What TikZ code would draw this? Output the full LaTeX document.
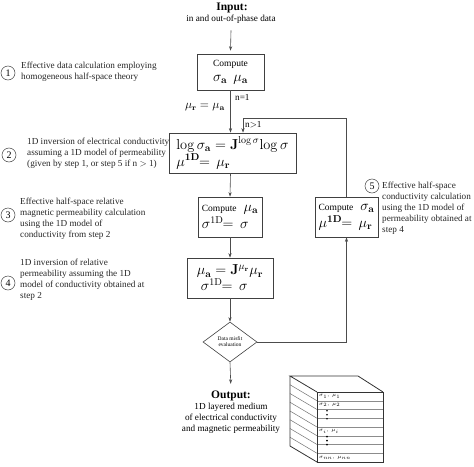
\documentclass[tikz,border=0pt]{standalone}
\usepackage[no-math]{fontspec}
\setmainfont{Liberation Serif}
\usetikzlibrary{shapes.geometric,arrows.meta}
\newcommand{\cmp}{{\fontsize{9.5}{9.5}\selectfont Compute}}
\begin{document}
\begin{tikzpicture}[x=1pt,y=-1pt,
  box/.style={draw=black!75, line width=0.7pt, inner sep=0pt, align=left, font=\fontsize{14}{17}\selectfont},
  arr/.style={draw=black!70, line width=0.6pt, -{Stealth[length=4.5pt,width=3.2pt]}},
  txt/.style={font=\fontsize{9.2}{11}\selectfont, align=left, anchor=west, inner sep=0pt, text=black!85},
  num/.style={draw=black!75, circle, minimum size=14pt, inner sep=0pt, font=\fontsize{10}{10}\selectfont, line width=0.5pt},
  lbl/.style={inner sep=0pt, font=\fontsize{9.2}{10}\selectfont},
  cubelbl/.style={inner sep=0pt, anchor=west, font=\fontsize{5.5}{6}\selectfont},
]
\useasboundingbox (0,0) rectangle (474,466);

% input
\node[inner sep=0pt, font=\fontsize{11.5}{12}\selectfont\bfseries] (inp) at (232,8) {Input:};
\node[lbl] (inp2) at (231,19) {in and out-of-phase data};

% boxes
\node[box, align=center, minimum width=67, minimum height=36, font=\fontsize{14}{15}\selectfont] (b1) at (230.5,72)
  {\cmp\\$\sigma_{\mathbf a}\hspace{6pt}\mu_{\mathbf a}$};
\node[box, minimum width=127, minimum height=40, font=\fontsize{14.5}{17}\selectfont] (b2) at (232.5,153)
  {$\log\sigma_{\mathbf a}=\mathbf J^{\log\sigma}\!\log\sigma$\\
   $\mu^{\mathbf{1D}}\!\!=\,\mu_{\mathbf r}$};
\node[box, minimum width=64, minimum height=40] (b3) at (230,217)
  {\cmp\ \ $\mu_{\mathbf a}$\\
   $\sigma^{\mathrm{1D}}\!\!=\,\sigma$};
\node[box, minimum width=86, minimum height=40, font=\fontsize{14}{16}\selectfont] (b4) at (230,278)
  {$\mu_{\mathbf a}=\mathbf J^{\mu_{\mathbf r}}\mu_{\mathbf r}$\\
   $\;\sigma^{\mathrm{1D}}\!\!=\,\sigma$};
\node[box, minimum width=63, minimum height=40] (b5) at (346.5,217)
  {\cmp\ \ $\sigma_{\mathbf a}$\\
   $\mu^{\mathbf{1D}}\!\!=\,\mu_{\mathbf r}$};
\node[draw=black!75, line width=0.6pt, diamond, minimum width=54, minimum height=40, inner sep=0pt,
  font=\fontsize{5.5}{6}\selectfont, align=center] (dm) at (230,342) {Data misfit\\evaluation};

% output
\node[inner sep=0pt, font=\fontsize{11.5}{12}\selectfont\bfseries] (out) at (231,396) {Output:};
\node[inner sep=0pt, anchor=north, align=center, font=\fontsize{9.2}{11}\selectfont] (out2) at (231,403)
  {1D layered medium\\of electrical conductivity\\and magnetic permeability};

% connectors
\draw[arr] ([yshift=-7pt]inp2.south) -- ([yshift=3pt]b1.north);
\draw[arr] (b1.south) -- (b1.south |- b2.north);
\coordinate (k) at (243,118);
\draw[arr] (b5.north) |- (k) -- (k |- b2.north);
\draw[arr] (b2.south -| b1.south) -- (b3.north);
\draw[arr] (b3.south) -- (b4.north);
\draw[arr] (b4.south) -- (dm.north);
\draw[arr] (dm.east) -| (b5.south);
\draw[arr, shorten >=7pt] (dm.south) -- (out.north);

\node[lbl, anchor=west] (n1) at (235,97) {n=1};
\node[lbl, anchor=east, font=\fontsize{11.5}{12}\selectfont] (mr) at (225,107) {$\mu_{\mathbf r}=\mu_{\mathbf a}$};
\node[lbl, anchor=west] (n2) at (245,125) {n$>$1};

% side notes
\node[num] (c1) at (8,73) {1};
\node[txt] (t1) at (21,72) {Effective data calculation employing\\homogeneous half-space theory};
\node[num] (c2) at (9,155) {2};
\node[txt] (t2) at (27,153) {1D inversion of electrical conductivity\\assuming a 1D model of permeability\\(given by step 1, or step 5 if n $>$ 1)};
\node[num] (c3) at (8,215) {3};
\node[txt] (t3) at (20,219) {Effective half-space relative\\magnetic permeability calculation\\using the 1D model of\\conductivity from step 2};
\node[num] (c4) at (8,283) {4};
\node[txt] (t4) at (20,280) {1D inversion of relative\\permeability assuming the 1D\\model of conductivity obtained at\\step 2};
\node[num] (c5) at (372,186) {5};
\node[txt] (t5) at (382,208) {Effective half-space\\conductivity calculation\\using the 1D model of\\permeability obtained at\\step 4};

% cube
\fill[white] (317,392) -- (290,376) -- (358,376) -- (383,392) -- (383,462) -- (317,462) -- (290,446) -- cycle;
\foreach \k in {1,...,7}{
  \draw[black!45, line width=0.5pt] (317,392+\k*8.75) -- (383,392+\k*8.75);
  \draw[black!55, line width=0.5pt] (290,376+\k*8.75) -- (317,392+\k*8.75);
}
\draw[black!80, line width=0.8pt] (317,392) rectangle (383,462);
\draw[black!80, line width=0.8pt] (317,392) -- (290,376) -- (358,376) -- (383,392);
\draw[black!80, line width=0.8pt] (290,376) -- (290,446) -- (317,462);
\node[cubelbl] (l1) at (319,396.4) {$\sigma_1,\ \mu_1$};
\node[cubelbl] (l2) at (319,405.1) {$\sigma_2,\ \mu_2$};
\node[cubelbl] (l3) at (319,431.4) {$\sigma_i,\ \mu_i$};
\node[cubelbl] (l4) at (319,457.6) {$\sigma_{nn},\ \mu_{nn}$};
\foreach \yy in {414.8,440.6}{
  \foreach \dd in {-4,0,4}{
    \fill[black] (327,\yy+\dd) circle (0.9);
  }
}
\end{tikzpicture}
\end{document}
